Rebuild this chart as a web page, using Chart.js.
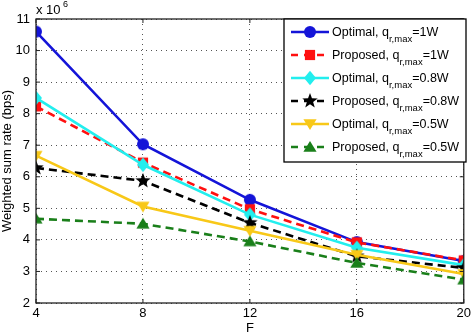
<!DOCTYPE html>
<html>
<head>
<meta charset="utf-8">
<script src="https://cdn.jsdelivr.net/npm/chart.js@4/dist/chart.umd.min.js"></script>
<style>
  html, body { margin: 0; padding: 0; background: #fff; }
  #wrap { width: 474px; height: 333px; }
</style>
</head>
<body>
<div id="wrap"><canvas id="myChart" width="474" height="333"></canvas></div>
<script>
    // data (values in units of 1e6 bps)
    var F = [4, 8, 12, 16, 20];
    var optimal1W   = [10.6, 7.03, 5.27, 3.93, 3.33];
    var proposed1W  = [8.23, 6.45, 4.97, 3.92, 3.35];
    var optimal08W  = [8.5, 6.38, 4.8, 3.75, 3.2];
    var proposed08W = [6.28, 5.87, 4.54, 3.48, 3.11];
    var optimal05W  = [6.67, 5.06, 4.29, 3.53, 2.92];
    var proposed05W = [4.67, 4.51, 3.95, 3.27, 2.74];
    var yTicks = [2, 3, 4, 5, 6, 7, 8, 9, 10, 11];
    var seriesNames = ['Optimal', 'Proposed', 'Optimal', 'Proposed', 'Optimal', 'Proposed'];
    var seriesPower = ['1W', '1W', '0.8W', '0.8W', '0.5W', '0.5W'];

    var FONT = '"Liberation Sans", Arial, sans-serif';

    function toPoints(arr) {
        return arr.map(function (v, i) { return { x: F[i], y: v }; });
    }

    // marker shapes, used for points and legend
    function drawMarker(ctx, shape, x, y, r, color) {
        ctx.save();
        ctx.fillStyle = color;
        ctx.strokeStyle = color;
        ctx.setLineDash([]);
        ctx.beginPath();
        if (shape === 'circle') {
            ctx.arc(x, y, r, 0, Math.PI * 2);
        } else if (shape === 'square') {
            ctx.rect(x - r * 0.85, y - r * 0.85, r * 1.7, r * 1.7);
        } else if (shape === 'diamond') {
            ctx.moveTo(x, y - r * 1.2); ctx.lineTo(x + r, y);
            ctx.lineTo(x, y + r * 1.2); ctx.lineTo(x - r, y);
        } else if (shape === 'star') {
            for (var k = 0; k < 10; k++) {
                var rr = k % 2 === 0 ? r * 1.35 : r * 0.55;
                var a = -Math.PI / 2 + k * Math.PI / 5;
                if (k === 0) ctx.moveTo(x + rr * Math.cos(a), y + rr * Math.sin(a));
                else ctx.lineTo(x + rr * Math.cos(a), y + rr * Math.sin(a));
            }
        } else if (shape === 'tdown') {
            ctx.moveTo(x - r * 1.1, y - r * 0.8); ctx.lineTo(x + r * 1.1, y - r * 0.8);
            ctx.lineTo(x, y + r * 1.0);
        } else if (shape === 'tup') {
            ctx.moveTo(x - r * 1.1, y + r * 0.8); ctx.lineTo(x + r * 1.1, y + r * 0.8);
            ctx.lineTo(x, y - r * 1.0);
        }
        ctx.closePath();
        ctx.fill();
        ctx.restore();
    }

    function markerCanvas(shape, color) {
        var c = document.createElement('canvas');
        c.width = 18; c.height = 18;
        drawMarker(c.getContext('2d'), shape, 9, 9, 6, color);
        return c;
    }

    var styles = [
        { color: '#1414d8', shape: 'circle', dash: [] },
        { color: '#ff1010', shape: 'square', dash: [8, 5] },
        { color: '#22eeee', shape: 'diamond', dash: [] },
        { color: '#000000', shape: 'star', dash: [8, 5] },
        { color: '#f8c818', shape: 'tdown', dash: [] },
        { color: '#1a7f1a', shape: 'tup', dash: [8, 5] }
    ];
    var allData = [optimal1W, proposed1W, optimal08W, proposed08W, optimal05W, proposed05W];

    var datasets = allData.map(function (arr, i) {
        var s = styles[i];
        return {
            label: seriesNames[i] + ', q_r,max=' + seriesPower[i],
            data: toPoints(arr),
            borderColor: s.color,
            backgroundColor: s.color,
            borderWidth: 2.6,
            borderDash: s.dash,
            pointStyle: markerCanvas(s.shape, s.color),
            pointRadius: 6,
            pointHoverRadius: 6,
            tension: 0,
            order: 5 - i
        };
    });

    // plot box, inward ticks, exponent label, custom legend
    var extras = {
        id: 'extras',
        afterDraw: function (chart) {
            var ctx = chart.ctx;
            var a = chart.chartArea;
            var xs = chart.scales.x, ys = chart.scales.y;
            ctx.save();
            ctx.strokeStyle = '#222';
            ctx.lineWidth = 1.3;
            ctx.setLineDash([]);
            ctx.strokeRect(a.left, a.top, a.right - a.left, a.bottom - a.top);
            // inward ticks
            ctx.lineWidth = 1;
            F.forEach(function (v) {
                var px = xs.getPixelForValue(v);
                ctx.beginPath();
                ctx.moveTo(px, a.bottom); ctx.lineTo(px, a.bottom - 4);
                ctx.moveTo(px, a.top); ctx.lineTo(px, a.top + 4);
                ctx.stroke();
            });
            yTicks.forEach(function (v) {
                var py = ys.getPixelForValue(v);
                ctx.beginPath();
                ctx.moveTo(a.left, py); ctx.lineTo(a.left + 4, py);
                ctx.moveTo(a.right, py); ctx.lineTo(a.right - 4, py);
                ctx.stroke();
            });
            // x 10^6
            ctx.fillStyle = '#000';
            ctx.font = '13px ' + FONT;
            ctx.textBaseline = 'alphabetic';
            ctx.textAlign = 'left';
            ctx.fillText('x 10', 36, 14);
            ctx.font = '9px ' + FONT;
            ctx.fillText('6', 63, 7);

            // legend
            var lx = 284, ly = 19, lw = 182, lh = 143;
            ctx.fillStyle = '#fff';
            ctx.fillRect(lx, ly, lw, lh);
            ctx.strokeStyle = '#000';
            ctx.lineWidth = 1.3;
            ctx.strokeRect(lx, ly, lw, lh);
            for (var i = 0; i < 6; i++) {
                var s = styles[i];
                var ry = 32 + i * 23;
                ctx.strokeStyle = s.color;
                ctx.lineWidth = 2.6;
                ctx.setLineDash(s.dash.length ? [7, 6] : []);
                ctx.beginPath();
                ctx.moveTo(291, ry); ctx.lineTo(329, ry);
                ctx.stroke();
                ctx.setLineDash([]);
                drawMarker(ctx, s.shape, 310, ry, 6, s.color);
                ctx.fillStyle = '#000';
                ctx.font = '12.5px ' + FONT;
                var t1 = seriesNames[i] + ', q';
                ctx.fillText(t1, 332, ry + 4);
                var w1 = ctx.measureText(t1).width;
                ctx.font = '9.5px ' + FONT;
                ctx.fillText('r,max', 332 + w1, ry + 10);
                var w2 = ctx.measureText('r,max').width;
                ctx.font = '12.5px ' + FONT;
                ctx.fillText('=' + seriesPower[i], 332 + w1 + w2, ry + 4);
            }
            ctx.restore();
        }
    };

    var ctx = document.getElementById('myChart').getContext('2d');
    var myChart = new Chart(ctx, {
        type: 'line',
        data: { datasets: datasets },
        plugins: [extras],
        options: {
            responsive: false,
            animation: false,
            events: [],
            layout: { padding: { top: 19, right: 7, left: 0, bottom: 0 } },
            plugins: { legend: { display: false }, tooltip: { enabled: false } },
            scales: {
                x: {
                    type: 'linear',
                    min: 4, max: 20,
                    afterBuildTicks: function (scale) {
                        scale.ticks = F.map(function (v) { return { value: v }; });
                    },
                    afterFit: function (scale) { scale.height = 30; },
                    grid: { color: '#555', lineWidth: 1, drawTicks: false },
                    border: { display: false, dash: [1, 4] },
                    ticks: { color: '#000', font: { family: FONT, size: 13 }, padding: 3, maxRotation: 0 },
                    title: { display: true, text: 'F', color: '#000', font: { family: FONT, size: 13 }, padding: { top: 0, bottom: -3 } }
                },
                y: {
                    type: 'linear',
                    min: 2, max: 11,
                    afterBuildTicks: function (scale) {
                        scale.ticks = yTicks.map(function (v) { return { value: v }; });
                    },
                    afterFit: function (scale) { scale.width = 36; },
                    grid: { color: '#555', lineWidth: 1, drawTicks: false },
                    border: { display: false, dash: [1, 4] },
                    ticks: { color: '#000', font: { family: FONT, size: 13 }, padding: 6 },
                    title: { display: true, text: 'Weighted sum rate (bps)', color: '#000', font: { family: FONT, size: 13 }, padding: { top: 0, bottom: 2 } }
                }
            }
        }
    });
</script>
</body>
</html>
